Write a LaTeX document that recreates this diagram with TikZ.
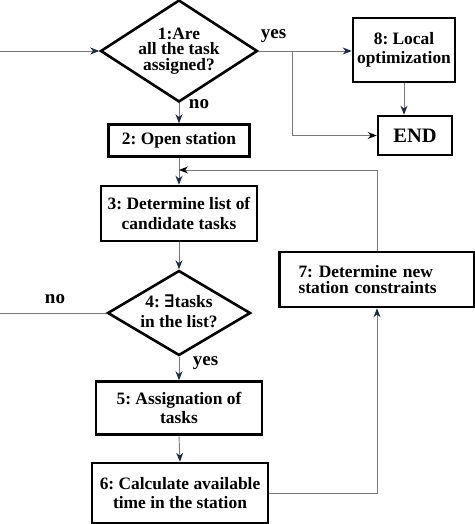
\documentclass[tikz,border=0pt]{standalone}
\usepackage{fontspec}
\setmainfont{Liberation Serif}
\newfontfamily\symbfont{DejaVu Serif}
\usetikzlibrary{shapes.geometric,arrows.meta}
\frenchspacing
\definecolor{linegray}{RGB}{120,120,120}
\definecolor{tipnavy}{RGB}{25,40,70}
\tikzset{
  block/.style={draw, line width=2.6pt, inner sep=0pt, align=center, font=\fontsize{17.4}{19.5}\selectfont\bfseries},
  decision/.style={draw, shape=diamond, line width=2.6pt, inner sep=0pt},
  qtext/.style={align=center, inner sep=0pt, font=\fontsize{17.4}{15.8}\selectfont\bfseries},
  flow/.style={draw=linegray, line width=0.9pt, -{Stealth[length=9pt,width=7pt,color=tipnavy]}},
  flowdark/.style={draw=linegray, line width=0.9pt, -{Stealth[length=9pt,width=7pt,color=black]}},
  plain/.style={draw=linegray, line width=0.9pt},
  answer/.style={font=\fontsize{19}{19}\selectfont\bfseries, inner sep=0pt},
}
\begin{document}
\begin{tikzpicture}[x=1pt, y=-1pt]
  \useasboundingbox (0,0) rectangle (474,524);

  % Draw the decisions
  \node[decision, minimum width=157pt, minimum height=102pt] (q1) at (179,51) {};
  \node[qtext] (q1txt) at (q1.center) {1:Are\\all the task\\assigned?};
  \node[decision, minimum width=143pt, minimum height=85pt] (q4) at (179,313) {};
  \node[qtext, font=\fontsize{17.4}{20.5}\selectfont\bfseries] (q4txt) at ([yshift=1.5pt]q4.center) {4: {\symbfont ∃}tasks\\in the list?};

  % Draw the steps
  \node[block, minimum width=141pt, minimum height=32pt] (open) at (179,140.5) {2: Open station};
  \node[block, minimum width=156pt, minimum height=55pt] (cand) at (179,213.5) {3: Determine list of\\candidate tasks};
  \node[block, minimum width=166pt, minimum height=53pt] (assign) at (179,408) {5: Assignation of\\tasks};
  \node[block, minimum width=176pt, minimum height=60pt] (avail) at (180,493) {6: Calculate available\\time in the station};
  \node[block, minimum width=195pt, minimum height=55pt, text width=157pt, align=left, font=\fontsize{17.4}{15.8}\selectfont\bfseries] (constr) at (377,279.5) {7: Determine new\\station constraints};
  \node[block, minimum width=102pt, minimum height=64pt] (local) at (404,50) {8: Local\\optimization};
  \node[block, minimum width=74pt, minimum height=39pt, font=\fontsize{20.5}{20.5}\selectfont\bfseries] (stop) at (415,135.5) {END};

  % Free ends of the connectors
  \coordinate (entry) at (0,51);
  \coordinate (exit) at (0,313);
  \coordinate (split) at (292,51);
  \coordinate (join) at (179,170);

  % Draw the connectors
  \draw[flow] (entry) -- (q1.west);
  \draw[flow] (q1.east) -- (q1.east -| local.west);
  \draw[flowdark] (split) |- (stop.west);
  \draw[flow] (q1.south) -- (open.north);
  \draw[flow] (open.south) -- (cand.north);
  \draw[flowdark] (constr.north) |- (join);
  \draw[flow] (cand.south) -- (q4.north);
  \draw[plain] (q4.west) -- (exit);
  \draw[flow] (q4.south) -- (assign.north);
  \draw[flow] (assign.south) -- (avail.north);
  \draw[flow] (avail.east) -| (constr.south);
  \draw[flow] (local.south) -- (local.south |- stop.north);

  % Add labels for the answers
  \node[answer] (yes1) at (273.5,36) {yes};
  \node[answer] (no1) at (199,104) {no};
  \node[answer] (no4) at (55,299) {no};
  \node[answer] (yes4) at (205.5,363) {yes};
\end{tikzpicture}
\end{document}
